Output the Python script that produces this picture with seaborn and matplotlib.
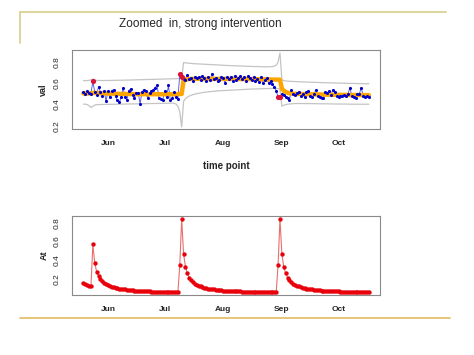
import numpy as np
import pandas as pd
import matplotlib
matplotlib.use("Agg")
import matplotlib.pyplot as plt
import matplotlib.dates as mdates
from matplotlib.lines import Line2D
import seaborn as sns

# -----------------------------
# DATA
# -----------------------------
START = "2011-05-19"
TITLE = "Zoomed  in, strong intervention"
MONTHS = ["Jun", "Jul", "Aug", "Sep", "Oct"]
INTERVENTION_DAYS = ["2011-05-24", "2011-07-09", "2011-07-10", "2011-08-30", "2011-08-31"]

obs_seg1 = [0.52, 0.50, 0.53, 0.51, 0.50, 0.62, 0.52, 0.49, 0.57, 0.52,
            0.48, 0.53, 0.43, 0.53, 0.47, 0.53, 0.54, 0.48, 0.44, 0.42,
            0.47, 0.56, 0.47, 0.44, 0.53, 0.55, 0.49, 0.46, 0.51, 0.51,
            0.41, 0.52, 0.54, 0.53, 0.46, 0.51, 0.53, 0.54, 0.56, 0.58,
            0.46, 0.45, 0.44, 0.53, 0.47, 0.58, 0.44, 0.46, 0.52, 0.47,
            0.45]
obs_jul = [0.69, 0.66]
obs_seg2 = [0.64, 0.63, 0.68, 0.64, 0.65, 0.62, 0.66, 0.65, 0.66, 0.63,
            0.67, 0.65, 0.62, 0.66, 0.63, 0.69, 0.64, 0.65, 0.62, 0.63,
            0.66, 0.65, 0.60, 0.66, 0.64, 0.66, 0.62, 0.67, 0.63, 0.65,
            0.67, 0.64, 0.66, 0.62, 0.67, 0.65, 0.63, 0.66, 0.62, 0.64,
            0.61, 0.66, 0.60, 0.63, 0.65, 0.60, 0.62, 0.59, 0.57, 0.53]
obs_sep = [0.47, 0.47]
obs_seg3 = [0.50, 0.49, 0.47, 0.46, 0.44, 0.54, 0.50, 0.49, 0.51, 0.52,
            0.48, 0.50, 0.47, 0.52, 0.53, 0.48, 0.47, 0.50, 0.54, 0.48,
            0.47, 0.46, 0.46, 0.52, 0.51, 0.53, 0.49, 0.54, 0.52, 0.48,
            0.47, 0.48, 0.48, 0.49, 0.48, 0.50, 0.56, 0.48, 0.47, 0.46,
            0.50, 0.50, 0.56, 0.48, 0.47, 0.48, 0.47]

fit_seg1 = [0.505, 0.505, 0.505, 0.505, 0.505, 0.510, 0.510, 0.508, 0.508, 0.506,
            0.505, 0.505, 0.504, 0.504, 0.503, 0.503, 0.502, 0.502, 0.501, 0.501,
            0.500, 0.500, 0.500, 0.499, 0.499, 0.499, 0.499, 0.498, 0.498, 0.498,
            0.498, 0.498, 0.497, 0.497, 0.497, 0.497, 0.497, 0.497, 0.497, 0.497,
            0.497, 0.497, 0.497, 0.497, 0.497, 0.497, 0.497, 0.497, 0.497, 0.497,
            0.497, 0.500, 0.500]
fit_seg2 = [0.630, 0.635, 0.638, 0.640, 0.641, 0.642, 0.642, 0.642, 0.643, 0.643,
            0.643, 0.643, 0.643, 0.643, 0.643, 0.643, 0.643, 0.643, 0.642, 0.642,
            0.642, 0.642, 0.642, 0.642, 0.642, 0.641, 0.641, 0.641, 0.641, 0.641,
            0.640, 0.640, 0.640, 0.640, 0.640, 0.639, 0.639, 0.639, 0.639, 0.638,
            0.638, 0.638, 0.637, 0.637, 0.637, 0.636, 0.636, 0.635, 0.635, 0.634,
            0.634, 0.634]
fit_seg3 = [0.550, 0.530, 0.520, 0.512, 0.507, 0.504, 0.502, 0.501, 0.500, 0.500,
            0.499, 0.499, 0.498, 0.498, 0.497, 0.497, 0.496, 0.496, 0.495, 0.495,
            0.495, 0.494, 0.494, 0.494, 0.493, 0.493, 0.493, 0.492, 0.492, 0.492,
            0.492, 0.491, 0.491, 0.491, 0.491, 0.490, 0.490, 0.490, 0.490, 0.490,
            0.489, 0.489, 0.489, 0.489, 0.489, 0.489, 0.489]

up_seg1 = [0.625, 0.625, 0.626, 0.628, 0.632, 0.640, 0.630, 0.627, 0.626, 0.626,
           0.626, 0.626, 0.627, 0.627, 0.627, 0.628, 0.628, 0.628, 0.629, 0.629,
           0.629, 0.630, 0.630, 0.630, 0.631, 0.631, 0.632, 0.632, 0.633, 0.633,
           0.634, 0.634, 0.635, 0.635, 0.636, 0.636, 0.637, 0.637, 0.638, 0.638,
           0.639, 0.639, 0.640, 0.640, 0.641, 0.641, 0.642, 0.642, 0.643, 0.643,
           0.644, 0.645, 0.645]
up_seg2 = [0.795, 0.792, 0.790, 0.788, 0.787, 0.785, 0.784, 0.783, 0.782, 0.781,
           0.780, 0.779, 0.778, 0.777, 0.776, 0.775, 0.774, 0.773, 0.772, 0.771,
           0.770, 0.770, 0.769, 0.768, 0.767, 0.766, 0.766, 0.765, 0.764, 0.763,
           0.763, 0.762, 0.761, 0.761, 0.760, 0.759, 0.759, 0.758, 0.758, 0.757,
           0.757, 0.756, 0.756, 0.755, 0.755, 0.755, 0.756, 0.758, 0.762, 0.770,
           0.800, 0.885]
up_seg3 = [0.635, 0.625, 0.622, 0.620, 0.619, 0.618, 0.617, 0.617, 0.616, 0.615,
           0.614, 0.614, 0.613, 0.612, 0.612, 0.611, 0.610, 0.610, 0.609, 0.608,
           0.608, 0.607, 0.606, 0.606, 0.605, 0.605, 0.604, 0.604, 0.603, 0.603,
           0.602, 0.602, 0.601, 0.601, 0.600, 0.600, 0.599, 0.599, 0.599, 0.598,
           0.598, 0.597, 0.597, 0.597, 0.596, 0.596, 0.596]

lo_seg1 = [0.405, 0.404, 0.400, 0.390, 0.372, 0.385, 0.396, 0.399, 0.400, 0.401,
           0.401, 0.402, 0.402, 0.402, 0.403, 0.403, 0.403, 0.404, 0.404, 0.404,
           0.405, 0.405, 0.405, 0.406, 0.406, 0.406, 0.407, 0.407, 0.407, 0.408,
           0.408, 0.408, 0.409, 0.409, 0.409, 0.410, 0.410, 0.410, 0.411, 0.411,
           0.411, 0.412, 0.412, 0.412, 0.413, 0.413, 0.413, 0.414, 0.412, 0.405,
           0.385, 0.330, 0.190]
lo_seg2 = [0.430, 0.455, 0.470, 0.480, 0.488, 0.494, 0.499, 0.503, 0.507, 0.510,
           0.513, 0.516, 0.518, 0.520, 0.522, 0.524, 0.526, 0.527, 0.529, 0.530,
           0.531, 0.533, 0.534, 0.535, 0.536, 0.537, 0.538, 0.539, 0.540, 0.541,
           0.542, 0.542, 0.543, 0.544, 0.545, 0.545, 0.546, 0.547, 0.547, 0.548,
           0.548, 0.549, 0.550, 0.550, 0.551, 0.551, 0.552, 0.552, 0.553, 0.553,
           0.550, 0.545]
lo_seg3 = [0.385, 0.395, 0.400, 0.404, 0.406, 0.408, 0.409, 0.410, 0.410, 0.410,
           0.410, 0.410, 0.410, 0.410, 0.409, 0.409, 0.409, 0.409, 0.408, 0.408,
           0.408, 0.408, 0.407, 0.407, 0.407, 0.407, 0.406, 0.406, 0.406, 0.406,
           0.405, 0.405, 0.405, 0.405, 0.405, 0.404, 0.404, 0.404, 0.404, 0.404,
           0.403, 0.403, 0.403, 0.403, 0.403, 0.403, 0.403]

at_seg1 = [0.16, 0.15, 0.14, 0.13, 0.12,
           0.57, 0.37, 0.28, 0.23, 0.20, 0.175, 0.158, 0.145, 0.134, 0.125,
           0.118, 0.112, 0.107, 0.102, 0.098, 0.094, 0.091, 0.088, 0.085, 0.083,
           0.081, 0.079, 0.077, 0.075, 0.074, 0.072, 0.071, 0.070, 0.069, 0.068,
           0.067, 0.066, 0.065, 0.064, 0.064, 0.063, 0.062, 0.062, 0.061, 0.061,
           0.060, 0.060, 0.059, 0.059, 0.058, 0.058]
at_seg2 = [0.35, 0.84, 0.47, 0.33, 0.26, 0.215, 0.185, 0.165, 0.15, 0.138, 0.128,
           0.12, 0.113, 0.107, 0.102, 0.098, 0.094, 0.091, 0.088, 0.085, 0.083,
           0.081, 0.079, 0.077, 0.076, 0.074, 0.073, 0.072, 0.071, 0.070, 0.069,
           0.068, 0.067, 0.066, 0.066, 0.065, 0.064, 0.064, 0.063, 0.063, 0.062,
           0.062, 0.061, 0.061, 0.060, 0.060, 0.060, 0.059, 0.059, 0.059, 0.058,
           0.058]
at_seg3 = [0.35, 0.84, 0.47, 0.33, 0.26, 0.215, 0.185, 0.165, 0.15, 0.138, 0.128,
           0.12, 0.113, 0.107, 0.102, 0.098, 0.094, 0.091, 0.088, 0.085, 0.083,
           0.081, 0.079, 0.077, 0.076, 0.074, 0.073, 0.072, 0.071, 0.070, 0.069,
           0.068, 0.067, 0.066, 0.066, 0.065, 0.064, 0.064, 0.063, 0.063, 0.062,
           0.062, 0.061, 0.061, 0.060, 0.060, 0.060, 0.059, 0.059]


def series(values):
    return pd.DataFrame({"date": pd.date_range(START, periods=len(values), freq="D"),
                         "value": values})


observed = series(obs_seg1 + obs_jul + obs_seg2 + obs_sep + obs_seg3)
fitted = series(fit_seg1 + fit_seg2 + fit_seg3)
upper = series(up_seg1 + up_seg2 + up_seg3)
lower = series(lo_seg1 + lo_seg2 + lo_seg3)
at = series(at_seg1 + at_seg2 + at_seg3)
hits = observed[observed["date"].isin(pd.to_datetime(INTERVENTION_DAYS))]

# -----------------------------
# FIGURE
# -----------------------------
sns.set_style("white")
plt.rcParams["font.family"] = ["Liberation Sans", "DejaVu Sans"]

fig = plt.figure(figsize=(4.74, 3.55), dpi=100)
ax1 = fig.add_axes([0.152, 0.637, 0.650, 0.222])
ax2 = fig.add_axes([0.152, 0.169, 0.650, 0.223])

# slide frame lines
fig.add_artist(Line2D([0.042, 0.941], [0.966, 0.966], color="#d8cd8a", lw=1.2))
fig.add_artist(Line2D([0.042, 0.042], [0.966, 0.879], color="#d8cd8a", lw=1.2))
fig.add_artist(Line2D([0.042, 0.950], [0.104, 0.104], color="#e2bb62", lw=1.2))
fig.text(0.422, 0.932, TITLE, ha="center", va="center", fontsize=8.5)

# top panel
band_kw = dict(x="date", y="value", color="#c4c4c4", lw=0.9, ax=ax1)
sns.lineplot(data=upper, **band_kw)
sns.lineplot(data=lower, **band_kw)
sns.lineplot(data=observed, x="date", y="value", color="#4a4ae0", lw=0.6, ax=ax1)
sns.lineplot(data=fitted, x="date", y="value", color="#ffa500", lw=3.2, ax=ax1)
ax1.lines[-1].set_zorder(2.5)
sns.scatterplot(data=observed, x="date", y="value", color="#0000c8", s=5,
                linewidth=0, ax=ax1, zorder=3)
sns.scatterplot(data=hits, x="date", y="value", color="#d8143a", s=14,
                linewidth=0, ax=ax1, zorder=4)
ax1.set_ylim(0.172, 0.9125)
ax1.set_yticks([0.2, 0.4, 0.6, 0.8])
ax1.set_ylabel("val", fontsize=6.5, fontweight="bold", labelpad=4)
ax1.set_xlabel("time point", fontsize=7, fontweight="bold", labelpad=10)

# bottom panel
sns.lineplot(data=at, x="date", y="value", color="#e87070", lw=0.8, ax=ax2)
sns.scatterplot(data=at, x="date", y="value", color="#e8000b", s=10,
                linewidth=0, ax=ax2, zorder=3)
ax2.set_ylim(0.029, 0.875)
ax2.set_yticks([0.2, 0.4, 0.6, 0.8])
ax2.set_ylabel("At", fontsize=6.5, fontweight="bold", labelpad=4)
ax2.set_xlabel("")

month_ticks = pd.date_range("2011-06-01", periods=len(MONTHS), freq="MS")
for ax in (ax1, ax2):
    ax.set_xlim(pd.Timestamp("2011-05-13"), pd.Timestamp("2011-10-23"))
    ax.set_xticks(month_ticks)
    ax.set_xticklabels(MONTHS, fontsize=6, fontweight="bold")
    ax.set_yticklabels(["0.2", "0.4", "0.6", "0.8"], fontsize=6, rotation=90, va="center")
    ax.tick_params(axis="both", length=3, width=0.7, color="#555555", pad=2)
    ax.tick_params(axis="x", pad=5)
    ax.tick_params(axis="y", pad=5)
    for side, sp in ax.spines.items():
        sp.set_color("#8a8a8a")
        sp.set_linewidth(0.8)

fig.savefig("out.png", dpi=100)
